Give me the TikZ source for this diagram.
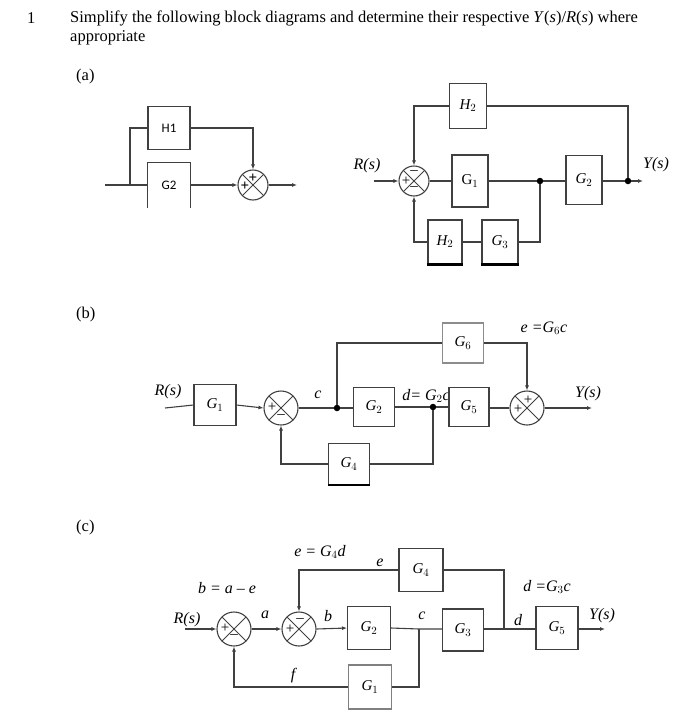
\documentclass[tikz,border=0pt]{standalone}
\usepackage{fontspec}
\setmainfont{Liberation Serif}
\newfontfamily\sansf{Carlito}
\usetikzlibrary{arrows.meta,calc}
\begin{document}
\begin{tikzpicture}[x=1pt,y=-1pt,
  ln/.style={draw=black!75,line width=1.1pt},
  ar/.style={ln,-{Latex[length=5pt,width=4pt]}},
  blk/.style={draw=black!75,line width=1.1pt,minimum width=#1,inner sep=0,font=\fontsize{15}{15}\selectfont\itshape},
  sum/.style={circle,draw=black!75,line width=1.1pt,minimum size=32pt,inner sep=0,
     path picture={\draw[black!75,line width=0.9pt] (path picture bounding box.south west)--(path picture bounding box.north east)
       (path picture bounding box.north west)--(path picture bounding box.south east);}},
  sg/.style={font=\fontsize{15}{15}\selectfont,inner sep=0},
  dot/.style={circle,fill=black,inner sep=0,minimum size=6.5pt},
  lb/.style={font=\fontsize{16}{16}\selectfont\itshape,inner sep=0},
  txt/.style={font=\fontsize{16.5}{16.5}\selectfont,inner sep=0,anchor=west}]
\useasboundingbox (0,0) rectangle (699,723);
% header
\node[txt] (n1) at (27,18) {1};
\node[txt] (t1) at (70,18) {Simplify the following block diagrams and determine their respective \textit{Y}(\textit{s})/\textit{R}(\textit{s}) where};
\node[txt] (t2) at (70,38) {appropriate};
\node[txt] (pa) at (76,77) {(a)};
\node[txt] (pb) at (76,315) {(b)};
\node[txt] (pc) at (76,528) {(c)};
% ---------- (a) left
\coordinate (ain) at (105,185);
\coordinate (abr) at (130,185);
\node[draw=black!75,line width=1.1pt,minimum width=42pt,minimum height=43pt,inner sep=0,font=\sansf\fontsize{13}{13}\selectfont] (h1) at (169,128) {H1};
\node[minimum width=42pt,minimum height=45pt,inner sep=0,font=\sansf\fontsize{13}{13}\selectfont] (g2a) at (169,185) {G2};
\draw[ln] (g2a.south west)--(g2a.north west)--(g2a.north east)--(g2a.south east);
\node[sum,minimum size=30pt] (s0) at (253,185) {};
\node[sg] at ($(s0)+(-8,1)$) {\textbf{+}};
\node[sg] at ($(s0)+(0,-7)$) {\textbf{+}};
\coordinate (aout) at (297,185);
\draw[ln] (ain)--(g2a.west);
\draw[ln] (abr)|-(h1.west);
\draw[ar] (h1.east)-|(s0.north);
\draw[ar] (g2a.east)--(s0.west);
\draw[ar] (s0.east)--(aout);
% ---------- (a) right
\node[lb] (ar) at (367,166) {R(s)};
\coordinate (rin) at (374,181);
\node[sum,minimum size=30pt] (s1) at (414,181) {};
\node[sg] at ($(s1)+(-8,0)$) {+};
\node[sg] at ($(s1)+(0,-8)$) {--};
\node[sg] at ($(s1)+(0,8)$) {--};
\node[blk=36pt,minimum height=52pt,font=\fontsize{15}{15}\selectfont] (g1) at (470,181) {G$_1$};
\node[dot] (d1) at (540,181) {};
\node[blk=36pt,minimum height=49pt] (g2) at (584,180) {G$_2$};
\node[dot] (d2) at (628,181) {};
\coordinate (yout) at (643,181);
\node[lb] (ay) at (656,165) {Y(s)};
\node[blk=37pt,minimum height=45pt] (h2t) at (468,106) {H$_2$};
\node[blk=34pt,minimum height=44pt] (h2b) at (445,242) {H$_2$};
\node[blk=36pt,minimum height=44pt] (g3) at (500,242) {G$_3$};
\draw[line width=2.2pt] (h2b.south west)--(h2b.south east) (g3.south west)--(g3.south east);
\draw[ar] (rin)--(s1.west);
\draw[ln] (s1.east)--(g1.west);
\draw[ln] (g1.east)--(d1)--(g2.west|-d1);
\draw[ln] (g2.east|-d2)--(d2);
\draw[ar] (d2)--(yout);
\draw[ln] (d2)|-(h2t.east);
\draw[ar] (h2t.west)-|(s1.north);
\draw[ln] (d1)|-(g3.east);
\draw[ln] (g3.west)--(h2b.east);
\draw[ar] (h2b.west)-|(s1.south);
% ---------- (b)
\node[lb] (br) at (168,392) {R(s)};
\coordinate (bin) at (165,408);
\node[blk=42pt,minimum height=41pt] (bg1) at (215,405) {G$_1$};
\node[sum,minimum size=34pt] (bs1) at (281,408) {};
\node[sg] at ($(bs1)+(-9,-1)$) {+};
\node[sg] at ($(bs1)+(0,9)$) {--};
\node[lb] (bc) at (318,395) {c};
\node[dot] (bd1) at (337,408) {};
\node[blk=41pt,minimum height=39pt] (bg2) at (374,407) {G$_2$};
\node[lb] (bdl) at (426,396) {d= G$_2$c};
\node[dot] (bd2) at (433,407) {};
\node[blk=40pt,minimum height=39pt] (bg5) at (469,407) {G$_5$};
\node[sum,minimum size=34pt] (bs2) at (527,408) {};
\node[sg] at ($(bs2)+(-9,1)$) {+};
\node[sg] at ($(bs2)+(1,-8)$) {+};
\coordinate (bout) at (592,408);
\node[lb] (by) at (588,394) {Y(s)};
\node[blk=41pt,minimum height=40pt,draw=black!45] (bg6) at (463,343) {G$_6$};
\node[lb] (be) at (544,328) {e =G$_6$c};
\node[blk=41pt,minimum height=41pt] (bg4) at (349,464) {G$_4$};
\draw[line width=2.2pt] (bg4.south west)--(bg4.south east);
\draw[ln] (bin)--(bg1.west);
\draw[ar] (bg1.east)--(bs1.west);
\draw[ln] (bs1.east)--(bd1)--(bg2.west|-bd1);
\draw[ln] (bg2.east|-bd2)--(bd2)--(bg5.west|-bd2);
\draw[ln] (bg5.east|-bs2)--(bs2.west);
\draw[ar] (bs2.east)--(bout);
\draw[ln] (bd1)|-(bg6.west);
\draw[ar] (bg6.east)-|(bs2.north);
\draw[ln] (bd2)|-(bg4.east);
\draw[ar] (bg4.west)-|(bs1.south);
% ---------- (c)
\node[lb] (cr) at (187,620) {R(s)};
\coordinate (cin) at (185,629);
\node[sum,minimum size=34pt] (cs1) at (234,629) {};
\node[sg] at ($(cs1)+(-9,-1)$) {+};
\node[sg] at ($(cs1)+(0,8)$) {--};
\node[lb] (ca) at (265,615) {a};
\node[lb] (cbe) at (227,588) {b = a -- e};
\node[sum,minimum size=34pt] (cs2) at (299,629) {};
\node[sg] at ($(cs2)+(-9,0)$) {+};
\node[sg] at ($(cs2)+(1,-8)$) {--};
\node[lb] (cb) at (328,616) {b};
\node[blk=43pt,minimum height=43pt] (cg2) at (369,628) {G$_2$};
\node[lb] (cc) at (422,616) {c};
\coordinate (cj1) at (419,629);
\node[blk=41pt,minimum height=42pt] (cg3) at (463,630) {G$_3$};
\coordinate (cj2) at (504,629);
\node[lb] (cd) at (518,620) {d};
\node[blk=42pt,minimum height=43pt] (cg5) at (557,628) {G$_5$};
\coordinate (cout) at (605,629);
\node[lb] (cy) at (602,616) {Y(s)};
\node[blk=44pt,minimum height=43pt] (cg4) at (421,570) {G$_4$};
\node[lb] (cel) at (380,563) {e};
\node[lb] (ceg) at (320,552) {e = G$_4$d};
\node[lb] (cdg) at (547,587) {d =G$_3$c};
\node[blk=43pt,minimum height=44pt,draw=black!50] (cg1) at (370,687) {G$_1$};
\node[lb] (cf) at (293,676) {f};
\draw[ar] (cin)--(cs1.west);
\draw[ar] (cs1.east)--(cs2.west);
\draw[ar] (cs2.east)--(cg2.west);
\draw[ln] (cg2.east)--(cj1)--(cg3.west|-cj1);
\draw[ln] (cg3.east|-cj2)--(cj2)--(cg5.west|-cj2);
\draw[ar] (cg5.east|-cout)--(cout);
\draw[ln] (cj2)|-(cg4.east);
\draw[ar] (cg4.west)-|(cs2.north);
\draw[ln] (cj1)|-(cg1.east);
\draw[ar] (cg1.west)-|(cs1.south);
\end{tikzpicture}
\end{document}
